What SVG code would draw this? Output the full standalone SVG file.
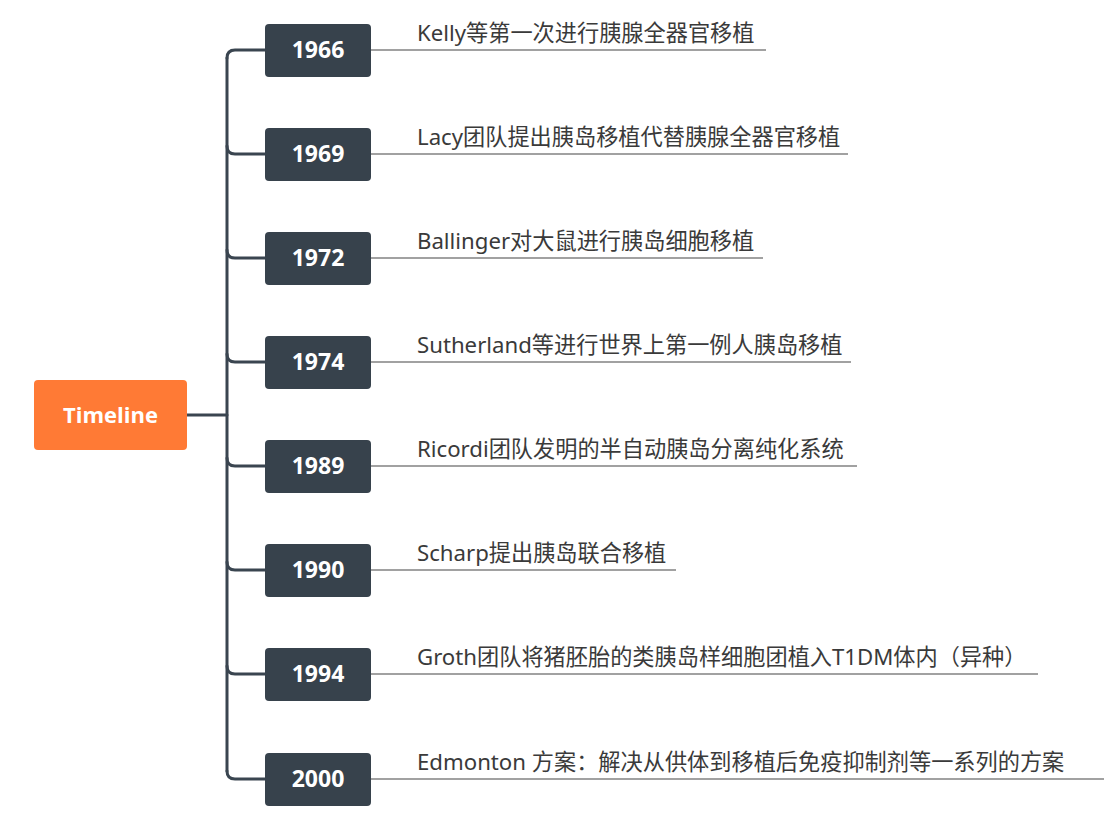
<svg xmlns="http://www.w3.org/2000/svg" width="1116" height="813" viewBox="0 0 1116 813">
<style>
.yr rect{fill:#37424c}
.yr text{fill:#ffffff;font-family:"Open Sans","Noto Sans",sans-serif;font-weight:700;font-size:23px;text-anchor:middle}
.lbl{fill:#3a3a3a;font-family:"Noto Sans","Noto Sans CJK SC",sans-serif;font-size:22.2px}
.ul{stroke:#444;stroke-width:1.2}
.con{fill:none;stroke:#3a4550;stroke-width:3;stroke-linecap:round}
</style>
<rect width="1116" height="813" fill="#ffffff"/>
<g id="connectors" class="con">
<path d="M187,415 L227,415"/>
<path d="M227,58 L227,771"/>
<path d="M227,58 Q227,50 235,50 L265,50"/>
<path d="M227,146 Q227,154 235,154 L265,154"/>
<path d="M227,250 Q227,258 235,258 L265,258"/>
<path d="M227,354 Q227,362 235,362 L265,362"/>
<path d="M227,458 Q227,466 235,466 L265,466"/>
<path d="M227,562 Q227,570 235,570 L265,570"/>
<path d="M227,666 Q227,674 235,674 L265,674"/>
<path d="M227,771 Q227,779 235,779 L265,779"/>
</g>
<g id="root">
<rect x="34" y="380" width="153" height="70" rx="4" fill="#ff7a35"/>
<text x="110.5" y="423" fill="#ffffff" font-family="'Open Sans','Noto Sans',sans-serif" font-weight="700" font-size="22" text-anchor="middle">Timeline</text>
</g>
<g id="n1966" class="yr"><rect x="265" y="24" width="106" height="53" rx="4"/><text x="318" y="58">1966</text></g>
<g id="n1969" class="yr"><rect x="265" y="128" width="106" height="53" rx="4"/><text x="318" y="162">1969</text></g>
<g id="n1972" class="yr"><rect x="265" y="232" width="106" height="53" rx="4"/><text x="318" y="266">1972</text></g>
<g id="n1974" class="yr"><rect x="265" y="336" width="106" height="53" rx="4"/><text x="318" y="370">1974</text></g>
<g id="n1989" class="yr"><rect x="265" y="440" width="106" height="53" rx="4"/><text x="318" y="474">1989</text></g>
<g id="n1990" class="yr"><rect x="265" y="544" width="106" height="53" rx="4"/><text x="318" y="578">1990</text></g>
<g id="n1994" class="yr"><rect x="265" y="648" width="106" height="53" rx="4"/><text x="318" y="682">1994</text></g>
<g id="n2000" class="yr"><rect x="265" y="753" width="106" height="53" rx="4"/><text x="318" y="787">2000</text></g>
<g id="t1966"><text class="lbl" x="417" y="41">Kelly等第一次进行胰腺全器官移植</text><line class="ul" x1="371" y1="50" x2="766" y2="50"/></g>
<g id="t1969"><text class="lbl" x="417" y="145">Lacy团队提出胰岛移植代替胰腺全器官移植</text><line class="ul" x1="371" y1="154" x2="848" y2="154"/></g>
<g id="t1972"><text class="lbl" x="417" y="249">Ballinger对大鼠进行胰岛细胞移植</text><line class="ul" x1="371" y1="258" x2="763" y2="258"/></g>
<g id="t1974"><text class="lbl" x="417" y="353">Sutherland等进行世界上第一例人胰岛移植</text><line class="ul" x1="371" y1="362" x2="851" y2="362"/></g>
<g id="t1989"><text class="lbl" x="417" y="457">Ricordi团队发明的半自动胰岛分离纯化系统</text><line class="ul" x1="371" y1="466" x2="857" y2="466"/></g>
<g id="t1990"><text class="lbl" x="417" y="561">Scharp提出胰岛联合移植</text><line class="ul" x1="371" y1="570" x2="676" y2="570"/></g>
<g id="t1994"><text class="lbl" x="417" y="665">Groth团队将猪胚胎的类胰岛样细胞团植入T1DM体内（异种）</text><line class="ul" x1="371" y1="674" x2="1038" y2="674"/></g>
<g id="t2000"><text class="lbl" x="417" y="770">Edmonton 方案：解决从供体到移植后免疫抑制剂等一系列的方案</text><line class="ul" x1="371" y1="779" x2="1104" y2="779"/></g>
</svg>
